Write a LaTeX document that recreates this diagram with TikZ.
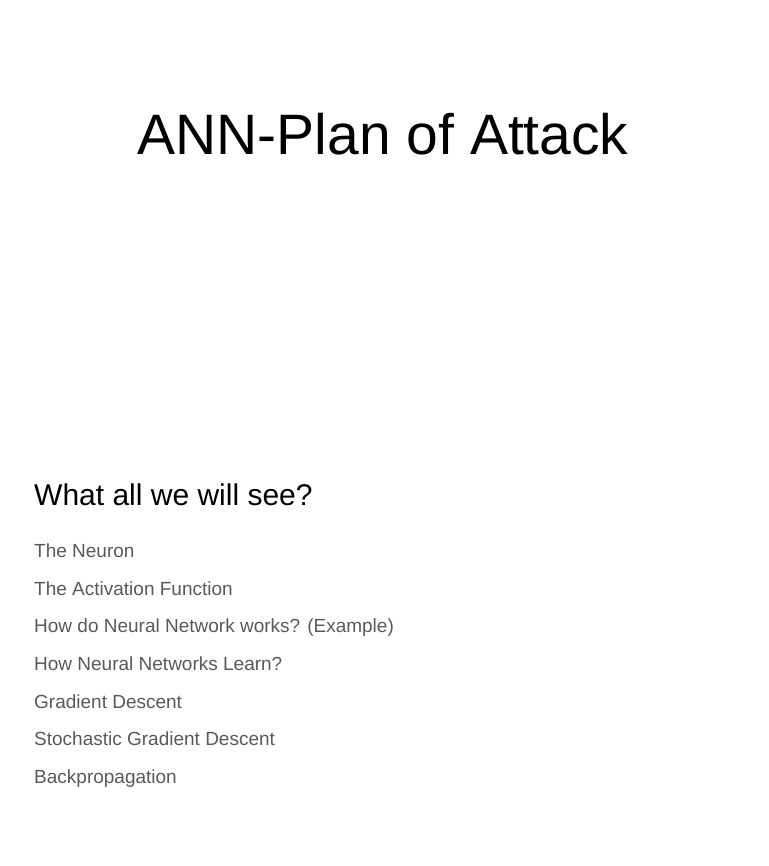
\documentclass[tikz,border=0pt]{standalone}
\usepackage{fontspec}
\setmainfont{Liberation Sans}
\definecolor{itemgrey}{HTML}{595959}
\begin{document}
\begin{tikzpicture}[x=1pt,y=-1pt,
  item/.style={anchor=base west,inner sep=0pt,text=itemgrey,font=\fontsize{19}{22}\selectfont}]
\useasboundingbox (0,0) rectangle (768,866);
\node[anchor=base,inner sep=0pt,font=\fontsize{57}{66}\selectfont] (title) at (383,155) {ANN-Plan of Attack};
\node[anchor=base west,inner sep=0pt,font=\fontsize{30}{36}\selectfont] (head) at (34,505) {What all we will see?};
\node[item] (i1) at (34,557) {The Neuron};
\node[item] (i2) at (34,595) {The Activation Function};
\node[item] (i3) at (34,632) {How do Neural Network works? (Example)};
\node[item] (i4) at (34,670) {How Neural Networks Learn?};
\node[item] (i5) at (34,708) {Gradient Descent};
\node[item] (i6) at (34,745) {Stochastic Gradient Descent};
\node[item] (i7) at (34,783) {Backpropagation};
\end{tikzpicture}
\end{document}
